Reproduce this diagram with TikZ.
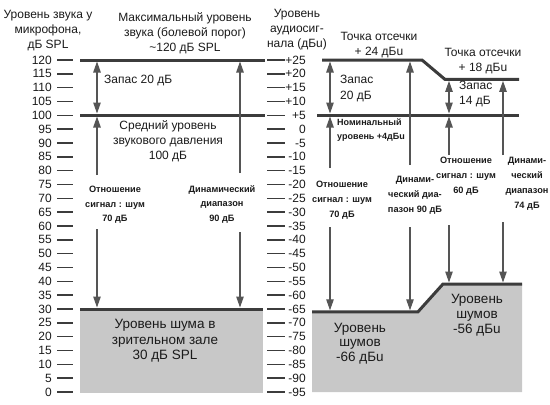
\documentclass[tikz,border=0pt]{standalone}
\usepackage{fontspec}
\setmainfont{Liberation Sans}
\usetikzlibrary{arrows.meta}
\definecolor{txt}{HTML}{1A1A1A}
\definecolor{lvl}{HTML}{3C3C3C}
\definecolor{arrc}{HTML}{555555}
\definecolor{noisefill}{HTML}{C8C8C8}
\begin{document}
\begin{tikzpicture}[x=1pt,y=-1pt,
  big/.style={font=\fontsize{12}{15}\selectfont, text=txt, align=center, inner sep=0pt},
  bigl/.style={big, align=left, anchor=west},
  noisetxt/.style={font=\fontsize{13.5}{15.5}\selectfont, text=txt, align=center, inner sep=0pt},
  sm/.style={font=\bfseries\fontsize{9.2}{14.5}\selectfont, text=txt, align=center, inner sep=0pt},
  sml/.style={sm, align=left, anchor=west},
  num/.style={font=\fontsize{12}{12}\selectfont, text=txt, anchor=east, inner sep=0pt},
  tickln/.style={draw=lvl, line width=1.4pt},
  level/.style={draw=lvl, line width=3pt},
  arr/.style={draw=arrc, line width=1.1pt, -{Triangle[length=11pt,width=7.5pt]}},
  darr/.style={draw=arrc, line width=1.1pt, {Triangle[length=11pt,width=7.5pt]}-{Triangle[length=11pt,width=7.5pt]}},
]
\useasboundingbox (0,0) rectangle (550,405);

% ---- scales ----
\foreach \i in {0,...,24} {
  \pgfmathsetmacro\yy{60+\i*13.8333}
  \pgfmathtruncatemacro\lv{120-5*\i}
  \pgfmathtruncatemacro\mv{25-5*\i}
  \draw[tickln] (57,\yy) -- (73,\yy);
  \node[num] (L\i) at (52,\yy) {\lv};
  \draw[tickln] (267,\yy) -- (285,\yy);
  \node[num] (M\i) at (306,\yy) {\ifnum\mv>0 +\fi\mv};
}

% ---- left panel ----
\fill[noisefill] (80,309) rectangle (263,393);
\coordinate (nl1) at (80,309); \coordinate (nl2) at (263,309);
\draw[level] (nl1) -- (nl2);
\coordinate (tl1) at (80,60); \coordinate (tl2) at (265,60);
\draw[level] (tl1) -- (tl2);
\coordinate (ml1) at (80,115); \coordinate (ml2) at (265,115);
\draw[level] (ml1) -- (ml2);

\coordinate (a1t) at (97,61.5); \coordinate (a1m) at (97,113.5); \coordinate (a1m2) at (97,116.5);
\coordinate (a1s) at (97,175); \coordinate (a1e) at (97,229); \coordinate (a1b) at (97,307.5);
\draw[darr] (a1t) -- (a1m);
\draw[arr] (a1s) -- (a1m2);
\draw[arr] (a1e) -- (a1b);

\coordinate (a2t) at (240,61.5); \coordinate (a2s) at (240,173);
\coordinate (a2e) at (240,232); \coordinate (a2b) at (240,307.5);
\draw[arr] (a2s) -- (a2t);
\draw[arr] (a2e) -- (a2b);

% ---- right panel ----
\fill[noisefill] (312,311.8) -- (418,311.8) -- (443,284) -- (522,284) -- (522,392) -- (312,392) -- cycle;
\coordinate (nr1) at (312,311.8); \coordinate (nr2) at (418,311.8);
\coordinate (nr3) at (443,284); \coordinate (nr4) at (522,284);
\draw[level, line join=miter] (nr1) -- (nr2) -- (nr3) -- (nr4);
\coordinate (cr1) at (322,60); \coordinate (cr2) at (422,60);
\coordinate (cr3) at (445,79.4); \coordinate (cr4) at (519,79.4);
\draw[level, line join=miter] (cr1) -- (cr2) -- (cr3) -- (cr4);
\coordinate (nm1) at (317,115); \coordinate (nm2) at (519,115);
\draw[level] (nm1) -- (nm2);

\coordinate (bAt) at (330,61.5); \coordinate (bAm) at (330,113.5); \coordinate (bAm2) at (330,116.5);
\coordinate (bAs) at (330,168); \coordinate (bAe) at (330,227); \coordinate (bAb) at (330,310.3);
\draw[darr] (bAt) -- (bAm);
\draw[arr] (bAs) -- (bAm2);
\draw[arr] (bAe) -- (bAb);

\coordinate (bBt) at (410,61.5); \coordinate (bBs) at (410,165);
\coordinate (bBe) at (410,227); \coordinate (bBb) at (410,310.3);
\draw[arr] (bBs) -- (bBt);
\draw[arr] (bBe) -- (bBb);

\coordinate (bCt) at (449,80.9); \coordinate (bCm) at (449,113.5); \coordinate (bCm2) at (449,116.5);
\coordinate (bCs) at (449,155); \coordinate (bCe) at (449,225); \coordinate (bCb) at (449,282.5);
\draw[darr] (bCt) -- (bCm);
\draw[arr] (bCs) -- (bCm2);
\draw[arr] (bCe) -- (bCb);

\coordinate (bDt) at (503,80.9); \coordinate (bDs) at (503,155);
\coordinate (bDe) at (503,222); \coordinate (bDb) at (503,282.5);
\draw[arr] (bDs) -- (bDt);
\draw[arr] (bDe) -- (bDb);

% ---- texts ----
\node[big] (hL) at (48,31) {Уровень звука у\\микрофона,\\дБ SPL};
\node[big] (hMax) at (185,33) {Максимальный уровень\\звука (болевой порог)\\\textasciitilde120 дБ SPL};
\node[big] (hM) at (297,30) {Уровень\\аудиосиг-\\нала (дБu)};
\node[big] (clip24) at (379,45) {Точка отсечки\\+ 24 дБu};
\node[big] (clip18) at (483,61.5) {Точка отсечки\\+ 18 дБu};

\node[bigl] (z20L) at (104,81) {Запас 20 дБ};
\node[big] (avg) at (168,141) {Средний уровень\\звукового давления\\100 дБ};
\node[sm] (snrL) at (115,205) {Отношение\\сигнал : шум\\70 дБ};
\node[sm] (drL) at (222,204) {Динамический\\диапазон\\90 дБ};
\node[noisetxt] (noiseL) at (165,341) {Уровень шума в\\зрительном зале\\30 дБ SPL};

\node[bigl, font=\fontsize{12}{16}\selectfont] (z20R) at (340,88.5) {Запас\\20 дБ};
\node[sml, font=\bfseries\fontsize{9}{14}\selectfont] (nom) at (337,130) {Номинальный\\уровень +4дБu};
\node[bigl, font=\fontsize{12}{15}\selectfont] (z14R) at (459,94.5) {Запас\\14 дБ};
\node[sm, font=\bfseries\fontsize{9.2}{15}\selectfont] (snr70) at (342,200) {Отношение\\сигнал : шум\\70 дБ};
\node[sm, font=\bfseries\fontsize{9.2}{15}\selectfont] (dr90) at (415,195) {Динами-\\ческий диа-\\пазон 90 дБ};
\node[sm, font=\bfseries\fontsize{9.2}{15}\selectfont] (snr60) at (466,176) {Отношение\\сигнал : шум\\60 дБ};
\node[sm, font=\bfseries\fontsize{9.2}{15}\selectfont] (dr74) at (527,184) {Динами-\\ческий\\диапазон\\74 дБ};
\node[noisetxt, font=\fontsize{13.5}{14.5}\selectfont] (noise66) at (360,343.5) {Уровень\\шумов\\-66 дБu};
\node[noisetxt, font=\fontsize{13.5}{15}\selectfont] (noise56) at (477,315) {Уровень\\шумов\\-56 дБu};
\end{tikzpicture}
\end{document}
